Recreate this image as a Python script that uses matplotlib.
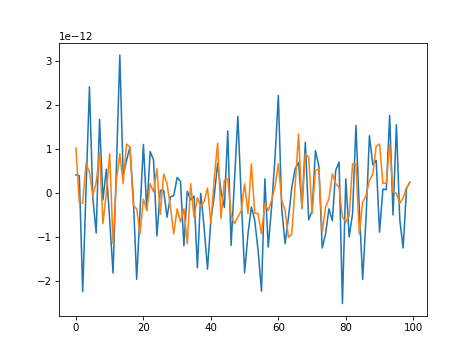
import numpy as np
import matplotlib
matplotlib.use("Agg")
import matplotlib.pyplot as plt

# values, in units of 1e-12
blue_vals = [
    0.42, 0.40, -2.23, 0.10, 2.42, -0.10, -0.90, 1.68, -0.15, 0.55,
    -0.60, -1.81, 0.60, 3.14, 0.40, 0.75, 1.05, -0.10, -1.95, -0.42,
    1.11, -0.38, 0.95, 0.76, -0.97, 0.07, 0.07, -0.54, -0.08, -0.05,
    0.36, 0.27, -1.19, 0.05, -0.15, -0.06, -1.69, 0.00, -0.78, -1.72,
    -0.60, -0.05, 0.68, 0.05, -0.32, 1.42, -1.18, 0.30, 1.75, -0.10,
    -1.80, -0.92, -0.31, -0.61, -1.30, -2.22, 0.33, -1.22, -0.31, 0.80,
    2.22, -0.35, -1.14, -0.55, 0.14, 0.56, 0.70, -0.33, 1.16, -0.60,
    -0.40, 0.97, 0.62, -1.24, -0.92, -0.35, -0.62, 0.52, 0.71, -2.50,
    0.33, -0.99, -0.46, 1.54, -0.35, -1.95, -0.55, 1.31, 0.65, 0.75,
    -0.88, 0.10, 0.08, 1.77, -0.49, 1.56, -0.60, -1.24, 0.12, 0.25,
]
orange_vals = [
    1.03, -0.22, -0.22, 0.68, 0.48, -0.06, 0.25, 0.90, -0.69, 0.00,
    0.90, -1.14, 0.30, 0.90, 0.22, 1.12, 1.05, -0.27, -0.35, -0.92,
    -0.13, -0.39, 0.22, 0.03, 0.56, -0.48, 0.44, 0.22, -0.31, -0.92,
    -0.35, -0.65, -0.35, -1.14, 0.22, -0.54, -0.10, -0.30, -0.18, 0.12,
    -0.68, 0.35, 1.14, -0.57, 0.30, 0.33, -0.50, -0.69, -0.54, -0.39,
    0.22, -0.46, 0.67, -0.45, -0.46, -0.92, -0.24, -0.39, -0.16, 0.15,
    0.67, -0.16, -0.39, -1.00, -0.92, 0.20, 1.35, -0.35, 0.90, 0.82,
    -0.46, 0.52, 0.56, -0.88, -0.31, -0.12, 0.44, 0.22, 0.14, -0.54,
    -0.65, -0.50, 0.67, 0.67, -0.92, -0.20, -0.05, 0.29, 0.44, 1.07,
    1.12, 0.23, 0.23, 1.12, 0.03, 0.00, -0.23, -0.10, 0.13, 0.25,
]
scale = 1e-12

x = np.arange(len(blue_vals))
blue = np.array(blue_vals) * scale
orange = np.array(orange_vals) * scale

fig, ax = plt.subplots(figsize=(474 / 74, 355 / 74), dpi=74)
ax.plot(x, blue)
ax.plot(x, orange)

fig.savefig("out.png", dpi=74)
